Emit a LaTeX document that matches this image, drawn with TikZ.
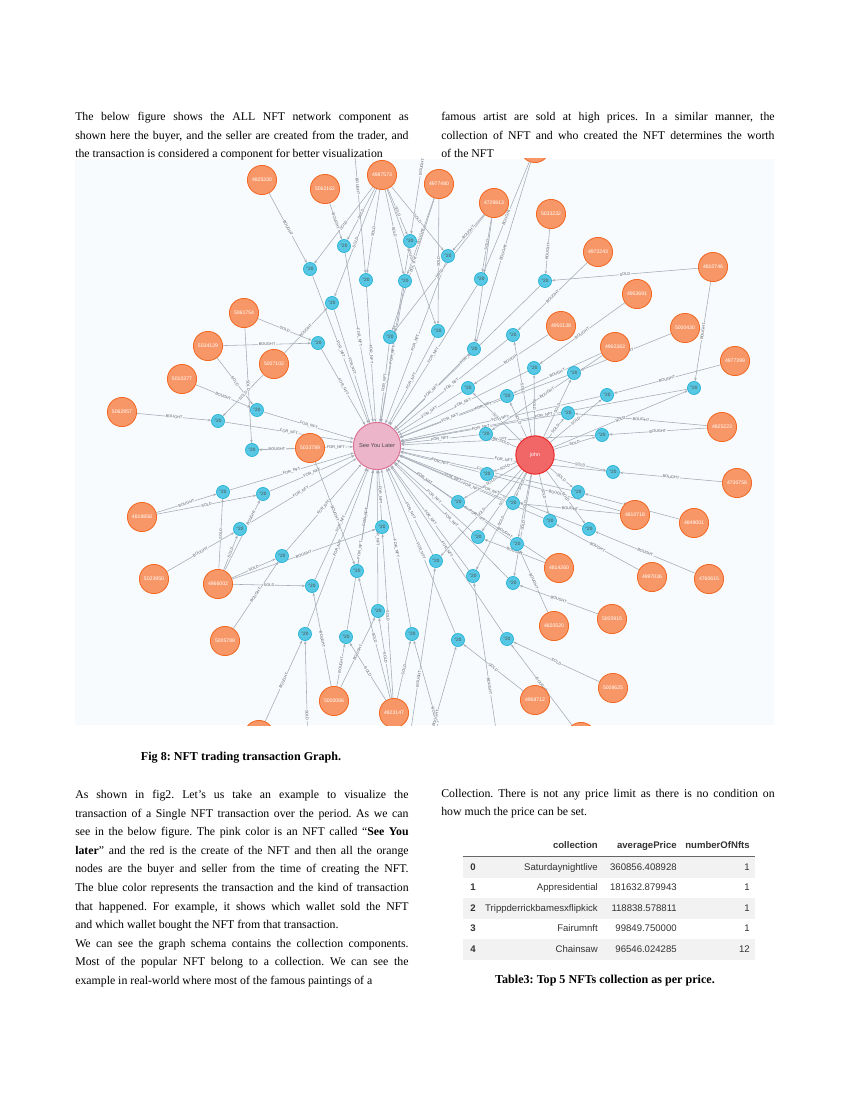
\documentclass[tikz,border=0pt]{standalone}
\usepackage{fontspec}
\setmainfont{Liberation Serif}
\setsansfont{Liberation Sans}
\usetikzlibrary{arrows.meta, positioning}
\frenchspacing

\definecolor{orangefill}{HTML}{F79767}
\definecolor{orangeline}{HTML}{F36924}
\definecolor{bluefill}{HTML}{57C7E3}
\definecolor{blueline}{HTML}{23B3D7}
\definecolor{pinkfill}{HTML}{ECB5C9}
\definecolor{pinkline}{HTML}{DA7194}
\definecolor{redfill}{HTML}{F16667}
\definecolor{redline}{HTML}{EB2728}
\definecolor{relgray}{HTML}{A5ABB6}
\definecolor{labelgray}{HTML}{555A63}
\definecolor{canvas}{HTML}{F8FBFD}
\definecolor{stripe}{HTML}{F2F2F2}

\pgfdeclarelayer{edges}
\pgfsetlayers{edges,main}

\begin{document}
\begin{tikzpicture}[
    x=0.72pt, y=-0.72pt,
    para/.style = {
        anchor=base west,
        inner sep=0pt,
        align=justify,
        text width=240pt,
        font=\fontsize{8.5}{13.2}\selectfont
    },
    caption/.style = {
        anchor=base,
        inner sep=0pt,
        font=\bfseries\fontsize{8.7}{10}\selectfont
    },
    trader/.style = {
        circle,
        draw=orangeline,
        fill=orangefill,
        line width=0.6pt,
        minimum size=21pt,
        inner sep=0pt,
        text=white,
        font=\sffamily\fontsize{3.7}{4}\selectfont
    },
    txn/.style = {
        circle,
        draw=blueline,
        fill=bluefill,
        line width=0.5pt,
        minimum size=9.4pt,
        inner sep=0pt,
        text=black!70,
        font=\sffamily\fontsize{3.4}{4}\selectfont
    },
    nft/.style = {
        circle,
        draw=pinkline,
        fill=pinkfill,
        line width=0.7pt,
        minimum size=34pt,
        inner sep=0pt,
        text=black!70,
        font=\sffamily\fontsize{4.1}{5}\selectfont
    },
    creator/.style = {
        circle,
        draw=redline,
        fill=redfill,
        line width=0.7pt,
        minimum size=27.6pt,
        inner sep=0pt,
        text=white,
        font=\sffamily\fontsize{3.8}{4}\selectfont
    },
    rel/.style = {
        draw=relgray,
        line width=0.4pt,
        -{Stealth[length=2.4pt,width=1.8pt]}
    },
    rlabel/.style = {
        sloped,
        midway,
        fill=canvas,
        inner sep=0.4pt,
        text=labelgray,
        font=\sffamily\fontsize{2.8}{3}\selectfont
    },
    cell/.style = {
        anchor=base east,
        inner sep=0pt,
        font=\sffamily\fontsize{6.9}{8}\selectfont,
        text=black!80
    }
]
\useasboundingbox (0,0) rectangle (850,1100);

% Text above the figure
\node[para] (introleft) at (75,121) {The below figure shows the ALL NFT network component as\linebreak
shown here the buyer, and the seller are created from the trader, and\linebreak
the transaction is considered a component for better visualization};
\node[para] (introright) at (441,121) {famous artist are sold at high prices. In a similar manner, the\linebreak
collection of NFT and who created the NFT determines the worth\linebreak
of the NFT};

% Graph: NFT, creator and traders
\begin{scope}
\clip (75,159) rectangle (774,725);
\node[nft] (nft) at (377,446) {See You Later};
\node[creator] (john) at (535,455) {john};

\node[trader] (w4825330) at (262,180) {4825330};
\node[trader] (w5062162) at (325,189) {5062162};
\node[trader] (w4987573) at (382,175) {4987573};
\node[trader] (w4977480) at (439,184) {4977480};
\node[trader] (wtop)     at (535,148) {};
\node[trader] (w4729813) at (494,203) {4729813};
\node[trader] (w5033232) at (551,214) {5033232};
\node[trader] (w4972243) at (598,252) {4972243};
\node[trader] (w4810746) at (713,267) {4810746};
\node[trader] (w4953691) at (637,294) {4953691};
\node[trader] (w4950138) at (561,326) {4950138};
\node[trader] (w5000430) at (685,328) {5000430};
\node[trader] (w4962363) at (615,347) {4962363};
\node[trader] (w4977399) at (735,361) {4977399};
\node[trader] (w4825223) at (722,427) {4825223};
\node[trader] (w4730758) at (737,483) {4730758};
\node[trader] (w4810718) at (635,515) {4810718};
\node[trader] (w4849001) at (694,523) {4849001};
\node[trader] (w4814260) at (559,568) {4814260};
\node[trader] (w4997036) at (652,577) {4997036};
\node[trader] (w4760615) at (709,579) {4760615};
\node[trader] (w5005915) at (612,619) {5005915};
\node[trader] (w4820520) at (554,626) {4820520};
\node[trader] (w5008625) at (613,688) {5008625};
\node[trader] (w4968712) at (535,700) {4968712};
\node[trader] (wbotr)    at (581,737) {};
\node[trader] (w4823147) at (394,713) {4823147};
\node[trader] (w5000066) at (334,701) {5000066};
\node[trader] (wbotl)    at (259,735) {};
\node[trader] (w5005788) at (225,641) {5005788};
\node[trader] (w4966002) at (218,584) {4966002};
\node[trader] (w5023950) at (154,579) {5023950};
\node[trader] (w4819858) at (142,517) {4819858};
\node[trader] (w5033789) at (310,448) {5033789};
\node[trader] (w5062957) at (122,412) {5062957};
\node[trader] (w5010377) at (182,379) {5010377};
\node[trader] (w5034129) at (208,346) {5034129};
\node[trader] (w5007102) at (274,364) {5007102};
\node[trader] (w5061754) at (244,313) {5061754};

% Transactions
\foreach \n/\x/\y in {1/310/269, 2/344/246, 3/366/280, 4/405/281, 5/410/241,
    6/332/303, 7/318/343, 8/390/337, 9/257/410, 10/218/421, 11/448/256,
    12/481/279, 13/545/281, 14/438/331, 15/513/335, 16/474/349, 17/534/368,
    18/574/373, 19/468/388, 20/507/396, 21/607/395, 22/694/388, 23/568/413,
    24/602/435, 25/486/434, 26/252/450, 27/223/492, 28/263/494, 29/240/529,
    30/282/556, 31/382/527, 32/312/586, 33/357/571, 34/378/611, 35/305/634,
    36/346/637, 37/412/634, 38/613/472, 39/487/474, 40/578/492, 41/458/502,
    42/513/503, 43/550/521, 44/589/529, 45/478/537, 46/517/544, 47/436/561,
    48/473/576, 49/513/583, 50/458/640, 51/507/639}
    \node[txn] (t\n) at (\x,\y) {"20};
\end{scope}

% Ends outside the canvas
\coordinate (offA) at (350,100);
\coordinate (offB) at (432,100);
\coordinate (offD) at (309,790);
\coordinate (offE) at (456,790);
\coordinate (offF) at (402,790);
\coordinate (offG) at (415,790);
\coordinate (offH) at (505,790);

% Relationships
\begin{pgfonlayer}{edges}
\fill[canvas] (75,159) rectangle (774,725);
\clip (75,159) rectangle (774,725);
\foreach \n in {1,...,25,27,28,...,45,47,48,...,51}
    \draw[rel] (t\n) -- node[rlabel] {FOR\_NFT} (nft);
\draw[rel] (t26) -- node[rlabel, pos=0.82] {FOR\_NFT} (nft);
\draw[rel] (t46) -- node[rlabel, pos=0.3] {FOR\_NFT} (nft);
\draw[rel] (w4966002) -- node[rlabel, pos=0.75] {BOUGHT} (t28);
\foreach \a/\b/\l in {w4987573/t1/SOLD, w4825330/t1/BOUGHT,
    w4987573/t2/SOLD, w5062162/t2/BOUGHT,
    w4987573/t3/SOLD, offA/t3/BOUGHT,
    w4987573/t4/SOLD, w4977480/t4/BOUGHT,
    w4987573/t5/SOLD, offB/t5/BOUGHT,
    w4987573/t6/SOLD, w5007102/t6/BOUGHT,
    w5061754/t7/SOLD, w5034129/t7/BOUGHT,
    w4729813/t8/SOLD, w4977480/t8/BOUGHT,
    w5034129/t9/SOLD, w5010377/t9/BOUGHT,
    w5007102/t10/SOLD, w5062957/t10/BOUGHT,
    w4987573/t11/SOLD, w4729813/t11/BOUGHT,
    w4729813/t12/SOLD, wtop/t12/BOUGHT,
    w4810746/t13/SOLD, w5033232/t13/BOUGHT,
    w4977480/t14/SOLD, w4987573/t14/BOUGHT,
    john/t15/SOLD, w4972243/t15/BOUGHT,
    w4729813/t16/SOLD, wtop/t16/BOUGHT,
    john/t17/SOLD, w4953691/t17/BOUGHT,
    john/t18/SOLD, w5000430/t18/BOUGHT,
    john/t19/SOLD, w4950138/t19/BOUGHT,
    john/t20/SOLD, w4962363/t20/BOUGHT,
    john/t21/SOLD, w4977399/t21/BOUGHT,
    john/t22/SOLD, w4810746/t22/BOUGHT,
    john/t23/SOLD, w4825223/t23/BOUGHT,
    john/t24/SOLD, w4825223/t24/BOUGHT,
    john/t25/SOLD, w4962363/t25/BOUGHT,
    w5061754/t26/SOLD, w5033789/t26/BOUGHT,
    w4966002/t27/SOLD, w4819858/t27/BOUGHT,
    w4819858/t28/SOLD,
    w4966002/t29/SOLD, w5023950/t29/BOUGHT,
    w4966002/t30/SOLD, w5005788/t30/BOUGHT,
    w4823147/t31/SOLD, w4966002/t31/BOUGHT,
    w4966002/t32/SOLD, w5000066/t32/BOUGHT,
    w4823147/t33/SOLD, w5033789/t33/BOUGHT,
    w4823147/t34/SOLD, w5000066/t34/BOUGHT,
    offD/t35/SOLD, wbotl/t35/BOUGHT,
    w4823147/t36/SOLD, w5000066/t36/BOUGHT,
    w4823147/t37/SOLD, offE/t37/BOUGHT,
    john/t38/SOLD, w4730758/t38/BOUGHT,
    john/t39/SOLD, w4810718/t39/BOUGHT,
    john/t40/SOLD, w4849001/t40/BOUGHT,
    john/t41/SOLD, w4814260/t41/BOUGHT,
    john/t42/SOLD, w4810718/t42/BOUGHT,
    john/t43/SOLD, w4997036/t43/BOUGHT,
    john/t44/SOLD, w4760615/t44/BOUGHT,
    john/t45/SOLD, w4814260/t45/BOUGHT,
    john/t46/SOLD, w4820520/t46/BOUGHT,
    john/t47/SOLD, offF/t47/BOUGHT,
    john/t48/SOLD, offH/t48/BOUGHT,
    john/t49/SOLD, w5005915/t49/BOUGHT,
    w4968712/t50/SOLD, offG/t50/BOUGHT,
    w5008625/t51/SOLD, wbotr/t51/BOUGHT}
    \draw[rel] (\a) -- node[rlabel] {\l} (\b);
\end{pgfonlayer}

\node[caption] (figcap) at (241,760) {Fig 8: NFT trading transaction Graph.};

% Text below the figure
\node[para, font=\fontsize{8.5}{13.36}\selectfont] (bodyleft) at (75,798.7) {As shown in fig2. Let’s us take an example to visualize the\linebreak
transaction of a Single NFT transaction over the period. As we can\linebreak
see in the below figure. The pink color is an NFT called “\textbf{See You}\linebreak
\textbf{later}” and the red is the create of the NFT and then all the orange\linebreak
nodes are the buyer and seller from the time of creating the NFT.\linebreak
The blue color represents the transaction and the kind of transaction\linebreak
that happened. For example, it shows which wallet sold the NFT\linebreak
and which wallet bought the NFT from that transaction.\\
We can see the graph schema contains the collection components.\linebreak
Most of the popular NFT belong to a collection. We can see the\linebreak
example in real-world where most of the famous paintings of a};
\node[para] (bodyright) at (441,797.3) {Collection. There is not any price limit as there is no condition on\linebreak
how much the price can be set.};

% Table 3
\foreach \r in {0,2,4}
    \fill[stripe] (463,{857+20.5*\r}) rectangle (755,{877.5+20.5*\r});
\draw[black!60, line width=0.5pt] (463,856) -- (755,856);
\node[cell, font=\sffamily\bfseries\fontsize{6.9}{8}\selectfont] (hcoll)  at (598,848.5) {collection};
\node[cell, font=\sffamily\bfseries\fontsize{6.9}{8}\selectfont] (hprice) at (677,848.5) {averagePrice};
\node[cell, font=\sffamily\bfseries\fontsize{6.9}{8}\selectfont] (hcount) at (750,848.5) {numberOfNfts};
\foreach \r/\coll/\price/\num in {0/Saturdaynightlive/360856.408928/1,
    1/Appresidential/181632.879943/1,
    2/Trippderrickbamesxflipkick/118838.578811/1,
    3/Fairumnft/99849.750000/1,
    4/Chainsaw/96546.024285/12} {
    \node[cell, anchor=base west, font=\sffamily\bfseries\fontsize{6.9}{8}\selectfont] (idx\r) at (470,{870+20.5*\r}) {\r};
    \node[cell] (coll\r)  at (598,{870+20.5*\r}) {\coll};
    \node[cell] (price\r) at (677,{870+20.5*\r}) {\price};
    \node[cell] (num\r)   at (750,{870+20.5*\r}) {\num};
}
\node[caption] (tabcap) at (605,983) {Table3: Top 5 NFTs collection as per price.};

\end{tikzpicture}
\end{document}
